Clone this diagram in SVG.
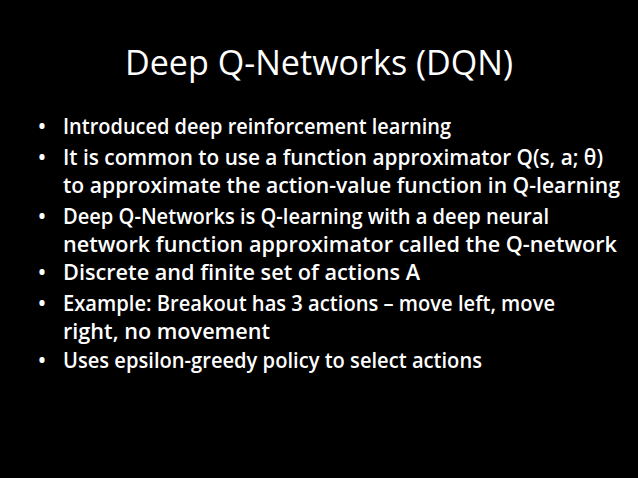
<svg xmlns="http://www.w3.org/2000/svg" width="638" height="478" viewBox="0 0 638 478">
<style>
text{fill:#fff;font-family:"Open Sans","Liberation Sans",sans-serif}
.t{font-size:35px}
.b{font-size:21px;font-weight:600}
</style>
<rect width="638" height="478" fill="#000"/>
<text class="t" x="125" y="75" textLength="388" lengthAdjust="spacingAndGlyphs">Deep Q-Networks (DQN)</text>
<g id="bullets">
<text class="b" x="38" y="134">•</text>
<text class="b" x="38" y="165">•</text>
<text class="b" x="38" y="224">•</text>
<text class="b" x="38" y="280">•</text>
<text class="b" x="38" y="311">•</text>
<text class="b" x="38" y="368">•</text>
</g>
<g id="lines">
<text class="b" x="63" y="134" textLength="388" lengthAdjust="spacingAndGlyphs">Introduced deep reinforcement learning</text>
<text class="b" x="63" y="165" textLength="540" lengthAdjust="spacingAndGlyphs">It is common to use a function approximator Q(s, a; θ)</text>
<text class="b" x="63" y="193" textLength="557" lengthAdjust="spacingAndGlyphs">to approximate the action-value function in Q-learning</text>
<text class="b" x="63" y="224" textLength="486" lengthAdjust="spacingAndGlyphs">Deep Q-Networks is Q-learning with a deep neural</text>
<text class="b" x="63" y="252" textLength="554" lengthAdjust="spacingAndGlyphs">network function approximator called the Q-network</text>
<text class="b" x="63" y="280" textLength="357" lengthAdjust="spacingAndGlyphs">Discrete and finite set of actions A</text>
<text class="b" x="63" y="311" textLength="492" lengthAdjust="spacingAndGlyphs">Example: Breakout has 3 actions – move left, move</text>
<text class="b" x="63" y="339" textLength="207" lengthAdjust="spacingAndGlyphs">right, no movement</text>
<text class="b" x="63" y="368" textLength="419" lengthAdjust="spacingAndGlyphs">Uses epsilon-greedy policy to select actions</text>
</g>
</svg>
